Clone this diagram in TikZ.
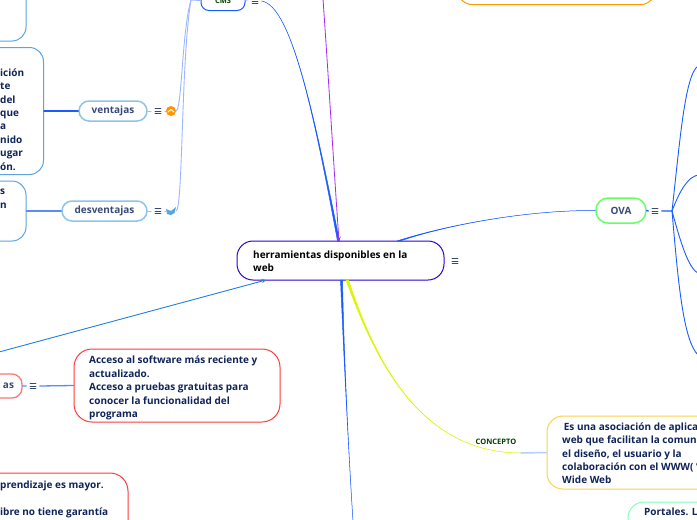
\documentclass[tikz,border=0pt]{standalone}
\usepackage{fontspec}
\setmainfont{Open Sans}
\usetikzlibrary{calc}
\definecolor{inkblue}{HTML}{10245A}
\definecolor{softink}{HTML}{3A4A78}
\definecolor{branchblue}{HTML}{1A5CFF}
\definecolor{paleblue}{HTML}{9DB7FF}
\definecolor{midblue}{HTML}{5A8CF5}
\definecolor{leafblue}{HTML}{5AA5DE}
\definecolor{topicblue}{HTML}{8EC4E8}
\definecolor{hubviolet}{HTML}{2D00D8}
\definecolor{linkviolet}{HTML}{A22CF5}
\definecolor{arrowblue}{HTML}{2080E0}
\definecolor{redline}{HTML}{FF3B3B}
\definecolor{limeline}{HTML}{DDF500}
\tikzset{
 box/.style={draw, rounded corners=#1, inner sep=0pt, line width=1pt},
 box/.default=14pt,
 txt/.style={font=\bfseries\fontsize{10}{13.4}\selectfont, text=inkblue, align=left, inner sep=0pt},
 topic/.style={draw=#1, rounded corners=10pt, line width=1.5pt, inner sep=0pt, font=\bfseries\fontsize{10}{13.4}\selectfont, text=softink},
 menuicon/.style={minimum width=13pt, minimum height=8pt, inner sep=0pt, path picture={\foreach \i in {-2.7,0,2.7}\draw[softink, line width=.6pt] (-3pt,\i pt)--(3pt,\i pt);}},
 link/.style={branchblue, line width=.9pt},
}
\newcommand\taper[6]{\fill[#1, draw=#1, line width=.5pt] #2 .. controls #3 and #4 .. #5 -- ++(#6,0) .. controls #4 and #3 .. #2;}
\begin{document}
\begin{tikzpicture}[x=1pt, y=-1pt, line join=round, line cap=round, >=stealth]
 \clip (0,0) rectangle (697,520);
 \fill[white] (0,0) rectangle (697,520);
 \node[box=16pt, draw=hubviolet, minimum width=207pt, minimum height=39pt] (hub) at (340.5,260.5) {};
 \node[txt, text=black, anchor=west] (hubtxt) at (253,261) {herramientas disponibles en la\\web};
 \node[menuicon] (hubicon) at (455,261) {};
 \coordinate (hubtop) at (337.5,241);
 \coordinate (hubova) at (397,241);
 \coordinate (hubin) at (266,280);
 \coordinate (hubdown) at (340.5,280);
 \coordinate (hubyellow) at (346,280);
 % left side
 \node[box, draw=leafblue, minimum width=92pt, minimum height=80pt] (firstbox) at (-20,1) {};
 \node[box, draw=leafblue, minimum width=127pt, minimum height=127pt] (ventajasbox) at (-20,111) {};
 \node[txt, anchor=north west] (ventajastxt) at (0,68.5) {ición\\te\\del\\que\\a\\nido\\ugar\\ón.};
 \node[box, draw=leafblue, minimum width=92pt, minimum height=60pt] (desvbox) at (-20,211) {};
 \node[txt, anchor=north west] (desvtxt) at (0,189) {s\\n};
 \node[topic=topicblue, minimum width=68pt, minimum height=20pt] (ventajas) at (113,111) {ventajas};
 \node[topic=topicblue, minimum width=85pt, minimum height=20pt] (desventajas) at (104.5,211) {desventajas};
 \node[menuicon] (ventajasicon) at (158,111) {};
 \node[menuicon] (desvicon) at (158,211) {};
 \node[circle, fill=orange!85!yellow, minimum size=10pt, inner sep=0pt] (ventajasdot) at (171,111) {};
 \draw[white, line width=1pt] (168,112)--(171,109.5)--(174,112);
 \node[minimum size=10pt, inner sep=0pt] (desvbird) at (171,211) {};
 \fill[leafblue] (166,209)--(171,211)--(176,207)--(174.5,213)--(171,215)--(167,214)--cycle;
 \draw[paleblue] (ventajas.east)--(ventajasicon.west) (ventajasicon.east)--(ventajasdot.west);
 \draw[paleblue] (desventajas.east)--(desvicon.west) (desvicon.east)--(desvbird.west);
 % CMS
 \node[box=8pt, draw=branchblue, minimum width=44pt, minimum height=20pt, font=\bfseries\fontsize{7.5}{9}\selectfont, text=green!25!black] (cms) at (223,0.5) {CMS};
 \node[menuicon] (cmsicon) at (255,1) {};
 \coordinate (cmsfork) at (191,0);
 \draw[paleblue, line width=.9pt] (ventajasdot.east) .. controls (182,108) and (182,30) .. (cmsfork) -- (cms.west);
 \draw[paleblue, line width=.9pt] (desvbird.east) .. controls (183,208) and (181,60) .. (cmsfork);
 \draw[paleblue] (cms.east)--(cmsicon.west);
 \taper{branchblue}{(cmsicon.east)}{(292,6)}{(315,120)}{(hubtop)}{2}
 % violet link
 \coordinate (violetstart) at (323,-1);
 \coordinate (violetend) at (339,241);
 \draw[->, linkviolet, line width=.8pt] (violetstart) .. controls (328,70) and (334,170) .. (violetend);
 % orange box
 \node[box, draw=orange!80!yellow, minimum width=197pt, minimum height=40pt] (orangebox) at (556.5,-15.5) {};
 % arrow into the hub
 \coordinate (arrowstart) at (-1,352);
 \draw[->, arrowblue, line width=.9pt] (arrowstart)--(hubin);
 % OVA
 \node[topic=green!60!white, minimum width=50pt, minimum height=25pt, rounded corners=12pt] (ova) at (621,210.5) {OVA};
 \node[menuicon] (ovaicon) at (655,211) {};
 \coordinate (ovafork) at (672,211);
 \taper{branchblue}{(ova.west)}{(530,210)}{(450,224)}{(hubova)}{3}
 \draw[link, line width=1.3pt] (ova.east)--(ovaicon.west) (ovaicon.east)--(ovafork);
 \coordinate (ovaone) at (698,66);
 \coordinate (ovatwo) at (698,175);
 \coordinate (ovathree) at (698,273);
 \coordinate (ovafour) at (698,355);
 \draw[link] (ovafork) .. controls (680,140) and (685,75) .. (ovaone);
 \draw[link] (ovafork) .. controls (680,190) and (688,177) .. (ovatwo);
 \draw[link] (ovafork) .. controls (680,240) and (688,268) .. (ovathree);
 \draw[link] (ovafork) .. controls (678,280) and (683,340) .. (ovafour);
 % down branch
 \coordinate (downend) at (353,521);
 \taper{branchblue}{(downend)}{(349,460)}{(344,360)}{(hubdown)}{2}
 % red boxes
 \node[box=18pt, draw=redline, minimum width=206pt, minimum height=73pt] (accesobox) at (177,385.5) {};
 \node[txt, anchor=north west] (accesotxt) at (89,356) {Acceso al software más reciente y\\actualizado.\\Acceso a pruebas gratuitas para\\conocer la funcionalidad del\\programa};
 \node[box=10pt, draw=redline!70!white, line width=1.3pt, minimum width=60pt, minimum height=24pt, text=softink, font=\bfseries\fontsize{10}{13.4}\selectfont, align=right, text width=44pt] (gratis) at (-8,386) {as};
 \node[menuicon] (gratisicon) at (33,386) {};
 \draw[midblue, line width=1.3pt] (gratis.east)--(gratisicon.west) (gratisicon.east)--(accesobox.west);
 \node[box=18pt, draw=redline, minimum width=200pt, minimum height=100pt] (limitesbox) at (28,523) {};
 \node[txt, anchor=north west] (limitestxt) at (0,480.5) {prendizaje es mayor.\\[13.4pt]ibre no tiene garantía};
 % concepto
 \coordinate (conceptofork) at (521,453);
 \node[box=16pt, draw=yellow!55!orange!70!white, minimum width=200pt, minimum height=73pt] (conceptobox) at (647,452.5) {};
 \node[txt, anchor=north west] (conceptotxt) at (562,422.5) {\,Es una asociación de aplica\\web que facilitan la comuni\\el diseño, el usuario y la\\colaboración con el WWW( '\\Wide Web};
 \node[font=\bfseries\fontsize{7.5}{9}\selectfont, text=green!25!black, inner sep=0pt] (concepto) at (496,442) {CONCEPTO};
 \taper{limeline}{(conceptofork)}{(420,453)}{(375,360)}{(hubyellow)}{2.5}
 \draw[paleblue!70!white, line width=1.5pt] (conceptofork)--(conceptobox.west);
 % portales
 \node[box=16pt, draw=green!50!cyan!50!white, minimum width=140pt, minimum height=38pt] (portalesbox) at (698,521) {};
 \node[txt, anchor=west] (portalestxt) at (644,512) {Portales. L};
 % box links
 \draw[branchblue, line width=1.1pt] (ventajasbox.east)--(ventajas.west);
 \draw[midblue, line width=1.2pt] (desvbox.east)--(desventajas.west);
\end{tikzpicture}
\end{document}
